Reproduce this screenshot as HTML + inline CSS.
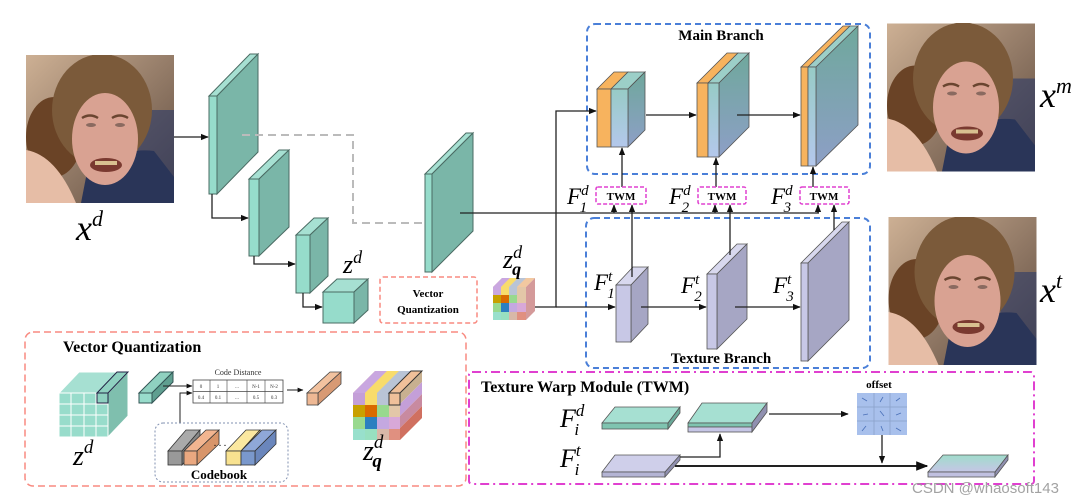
<!DOCTYPE html>
<html><head><meta charset="utf-8">
<style>
html,body{margin:0;padding:0;background:#fff;}
svg{display:block;}
.b{font-family:"Liberation Serif",serif;font-weight:bold;}
.m{font-family:"Liberation Serif",serif;font-style:italic;}
</style></head>
<body>
<svg width="1086" height="504" viewBox="0 0 1086 504" xmlns="http://www.w3.org/2000/svg">
<defs>
<marker id="ah" viewBox="0 0 10 10" refX="9" refY="5" markerWidth="6" markerHeight="6" orient="auto-start-reverse">
<path d="M0,1 L10,5 L0,9 z" fill="#111"/></marker>
<linearGradient id="mg" x1="0" y1="0" x2="0" y2="1"><stop offset="0" stop-color="#6fa89c"/><stop offset="1" stop-color="#8d9fc6"/></linearGradient>
<linearGradient id="mf" x1="0" y1="0" x2="0" y2="1"><stop offset="0" stop-color="#97cbc6"/><stop offset="1" stop-color="#b4c8ec"/></linearGradient>
<linearGradient id="og" x1="0" y1="0" x2="0" y2="1"><stop offset="0" stop-color="#a0dccb"/><stop offset="1" stop-color="#c6c6e6"/></linearGradient>
<linearGradient id="pbg" x1="0" y1="0" x2="1" y2="1"><stop offset="0" stop-color="#cdb094"/><stop offset="1" stop-color="#5e4a3e"/></linearGradient>
<symbol id="ph" viewBox="0 0 148 148">
<rect width="148" height="148" fill="url(#pbg)"/>
<rect x="112" y="55" width="36" height="70" fill="#2c3a68" opacity=".6"/>
<ellipse cx="28" cy="82" rx="28" ry="40" fill="#6a4326"/>
<ellipse cx="76" cy="55" rx="50" ry="56" fill="#7b5a3a"/>
<path d="M55,148 L62,112 Q100,92 128,96 L148,122 L148,148z" fill="#2a3558"/>
<ellipse cx="79" cy="84" rx="33" ry="46" fill="#d9a292"/>
<path d="M56,63 Q64,58 72,63 M86,63 Q94,58 102,63" stroke="#6a4530" stroke-width="2.5" fill="none"/>
<ellipse cx="65" cy="70" rx="5" ry="2" fill="#8a6a60"/>
<ellipse cx="94" cy="70" rx="5" ry="2" fill="#8a6a60"/>
<ellipse cx="80" cy="110" rx="16" ry="7" fill="#7a3a30"/>
<rect x="69" y="106" width="22" height="4" fill="#d8c090"/>
<path d="M0,95 Q30,100 50,148 L0,148z" fill="#e6bda6"/>
</symbol>
</defs>

<use href="#ph" x="26" y="55" width="148" height="148"/>
<use href="#ph" x="887" y="23" width="148" height="149"/>
<use href="#ph" x="888" y="217" width="149" height="148"/>
<text class="m" x="76" y="240" font-size="36">x<tspan font-size="22" dy="-14">d</tspan></text>
<text class="m" x="1040" y="107" font-size="36">x<tspan font-size="22" dy="-14">m</tspan></text>
<text class="m" x="1040" y="302" font-size="36">x<tspan font-size="22" dy="-14">t</tspan></text>

<g stroke="#4a6b63" stroke-width="1">
<polygon points="209,96 250,54 258,54 217,96" fill="#a6e0d2"/>
<polygon points="217,96 258,54 258,152 217,194" fill="#7ab6a8"/>
<rect x="209" y="96" width="8" height="98" fill="#96dccb"/>
<polygon points="249,179 279,150 289,150 259,179" fill="#a6e0d2"/>
<polygon points="259,179 289,150 289,227 259,256" fill="#7ab6a8"/>
<rect x="249" y="179" width="10" height="77" fill="#96dccb"/>
<polygon points="296,235 314,218 328,218 310,235" fill="#a6e0d2"/>
<polygon points="310,235 328,218 328,276 310,293" fill="#7ab6a8"/>
<rect x="296" y="235" width="14" height="58" fill="#96dccb"/>
<polygon points="323,292 337,279 368,279 354,292" fill="#a6e0d2"/>
<polygon points="354,292 368,279 368,310 354,323" fill="#7ab6a8"/>
<rect x="323" y="292" width="31" height="31" fill="#96dccb"/>
<polygon points="425,174 466,133 473,133 432,174" fill="#a6e0d2"/>
<polygon points="432,174 473,133 473,231 432,272" fill="#7ab6a8"/>
<rect x="425" y="174" width="7" height="98" fill="#96dccb"/>
</g>
<text class="m" x="343" y="273" font-size="26">z<tspan font-size="18" dy="-10">d</tspan></text>

<g stroke="#222" stroke-width="1.3" fill="none">
<line x1="174" y1="137" x2="208" y2="137" marker-end="url(#ah)"/>
<polyline points="212,194 212,218 248,218" marker-end="url(#ah)"/>
<polyline points="254,256 254,264 295,264" marker-end="url(#ah)"/>
<polyline points="303,293 303,307 322,307" marker-end="url(#ah)"/>
</g>
<polyline points="242,135 353,135 353,223 425,223" fill="none" stroke="#bbb" stroke-width="2" stroke-dasharray="8,5"/>

<rect x="380" y="277" width="97" height="46" rx="3" fill="none" stroke="#f88a80" stroke-width="1.5" stroke-dasharray="5,3"/>
<text class="b" x="428" y="297" font-size="11" text-anchor="middle">Vector</text>
<text class="b" x="428" y="313" font-size="11" text-anchor="middle">Quantization</text>

<g>
<polygon points="493,287 502,278 535,278 526,287" fill="#f2c8a0"/>
<polygon points="493,287 502,278 510,278 501,287" fill="#c9a7e0"/>
<polygon points="501,287 510,278 518,278 509,287" fill="#f8dc6b"/>
<polygon points="509,287 518,278 526,278 517,287" fill="#b9c4d6"/>
<polygon points="526,287 535,278 535,311 526,320" fill="#d49a9a"/>
<rect x="493" y="287" width="8" height="8" fill="#c9a7e0"/><rect x="501" y="287" width="8" height="8" fill="#f8dc6b"/><rect x="509" y="287" width="8" height="8" fill="#b9c4d6"/><rect x="517" y="287" width="9" height="8" fill="#e3c7a8"/>
<rect x="493" y="295" width="8" height="8" fill="#c8a000"/><rect x="501" y="295" width="8" height="8" fill="#d96a00"/><rect x="509" y="295" width="8" height="8" fill="#98d98e"/><rect x="517" y="295" width="9" height="8" fill="#e3c7a8"/>
<rect x="493" y="303" width="8" height="9" fill="#98d98e"/><rect x="501" y="303" width="8" height="9" fill="#2b7fc0"/><rect x="509" y="303" width="8" height="9" fill="#c4a8e0"/><rect x="517" y="303" width="9" height="9" fill="#d8a8d8"/>
<rect x="493" y="312" width="8" height="8" fill="#98e0cc"/><rect x="501" y="312" width="8" height="8" fill="#98e0c0"/><rect x="509" y="312" width="8" height="8" fill="#d8b8a8"/><rect x="517" y="312" width="9" height="8" fill="#e09080"/>
</g>
<text class="m" x="503" y="268" font-size="26">z<tspan font-size="18" dy="-10">d</tspan><tspan font-size="18" font-weight="bold" dx="-10" dy="17">q</tspan></text>

<rect x="587" y="24" width="283" height="150" rx="8" fill="none" stroke="#4a7fd8" stroke-width="2" stroke-dasharray="6,4"/>
<text class="b" x="721" y="40" font-size="15" text-anchor="middle">Main Branch</text>
<rect x="586" y="218" width="284" height="150" rx="8" fill="none" stroke="#4a7fd8" stroke-width="2" stroke-dasharray="6,4"/>
<text class="b" x="721" y="363" font-size="15" text-anchor="middle">Texture Branch</text>

<g stroke="#555" stroke-width="0.8">
<polygon points="597,89 614,72 628,72 611,89" fill="#f7b35e"/>
<rect x="597" y="89" width="14" height="58" fill="#f7b35e"/>
<polygon points="611,89 628,72 645,72 628,89" fill="#9ccfc8"/>
<polygon points="628,89 645,72 645,130 628,147" fill="url(#mg)"/>
<rect x="611" y="89" width="17" height="58" fill="url(#mf)"/>
<polygon points="697,83 727,53 738,53 708,83" fill="#f7b35e"/>
<rect x="697" y="83" width="11" height="74" fill="#f7b35e"/>
<polygon points="708,83 738,53 749,53 719,83" fill="#9ccfc8"/>
<polygon points="719,83 749,53 749,127 719,157" fill="url(#mg)"/>
<rect x="708" y="83" width="11" height="74" fill="url(#mf)"/>
<polygon points="801,67 843,26 850,26 808,67" fill="#f7b35e"/>
<rect x="801" y="67" width="7" height="99" fill="#f7b35e"/>
<polygon points="808,67 850,26 858,26 816,67" fill="#9ccfc8"/>
<polygon points="816,67 858,26 858,125 816,166" fill="url(#mg)"/>
<rect x="808" y="67" width="8" height="99" fill="url(#mf)"/>

<polygon points="616,285 633,267 648,267 631,285" fill="#d8d8ee"/>
<polygon points="631,285 648,267 648,324 631,342" fill="#a6a6c4"/>
<rect x="616" y="285" width="15" height="57" fill="#c8c8e6"/>
<polygon points="707,274 737,244 747,244 717,274" fill="#d8d8ee"/>
<polygon points="717,274 747,244 747,319 717,349" fill="#a6a6c4"/>
<rect x="707" y="274" width="10" height="75" fill="#c8c8e6"/>
<polygon points="801,263 842,222 849,222 808,263" fill="#d8d8ee"/>
<polygon points="808,263 849,222 849,320 808,361" fill="#a6a6c4"/>
<rect x="801" y="263" width="7" height="98" fill="#c8c8e6"/>
</g>

<g stroke="#222" stroke-width="1.3" fill="none">
<line x1="460" y1="213" x2="819" y2="213"/>
<polyline points="535,307 556,307 556,111 596,111" marker-end="url(#ah)"/>
<line x1="556" y1="307" x2="615" y2="307" marker-end="url(#ah)"/>
<line x1="646" y1="115" x2="696" y2="115" marker-end="url(#ah)"/>
<line x1="737" y1="115" x2="800" y2="115" marker-end="url(#ah)"/>
<line x1="641" y1="307" x2="706" y2="307" marker-end="url(#ah)"/>
<line x1="735" y1="307" x2="800" y2="307" marker-end="url(#ah)"/>
<line x1="622" y1="187" x2="622" y2="148" marker-end="url(#ah)"/>
<line x1="716" y1="187" x2="716" y2="158" marker-end="url(#ah)"/>
<line x1="813" y1="187" x2="813" y2="167" marker-end="url(#ah)"/>
<line x1="614" y1="213" x2="614" y2="205" marker-end="url(#ah)"/>
<line x1="715" y1="213" x2="715" y2="205" marker-end="url(#ah)"/>
<line x1="818" y1="213" x2="818" y2="205" marker-end="url(#ah)"/>
<line x1="632" y1="277" x2="632" y2="205" marker-end="url(#ah)"/>
<line x1="730" y1="255" x2="730" y2="205" marker-end="url(#ah)"/>
<line x1="834" y1="230" x2="834" y2="205" marker-end="url(#ah)"/>
</g>

<g fill="none" stroke="#e040d0" stroke-width="1.5" stroke-dasharray="4,2">
<rect x="596" y="187" width="50" height="17" rx="2"/>
<rect x="698" y="187" width="48" height="17" rx="2"/>
<rect x="800" y="187" width="49" height="17" rx="2"/>
</g>
<g class="b" font-size="11" text-anchor="middle">
<text x="621" y="200">TWM</text><text x="722" y="200">TWM</text><text x="824" y="200">TWM</text>
</g>
<g class="m" font-size="23">
<text x="567" y="204">F<tspan font-size="15" dy="-9">d</tspan><tspan font-size="15" dx="-9" dy="17">1</tspan></text>
<text x="669" y="204">F<tspan font-size="15" dy="-9">d</tspan><tspan font-size="15" dx="-9" dy="17">2</tspan></text>
<text x="771" y="204">F<tspan font-size="15" dy="-9">d</tspan><tspan font-size="15" dx="-9" dy="17">3</tspan></text>
<text x="594" y="290">F<tspan font-size="15" dy="-9">t</tspan><tspan font-size="15" dx="-5" dy="17">1</tspan></text>
<text x="681" y="293">F<tspan font-size="15" dy="-9">t</tspan><tspan font-size="15" dx="-5" dy="17">2</tspan></text>
<text x="773" y="293">F<tspan font-size="15" dy="-9">t</tspan><tspan font-size="15" dx="-5" dy="17">3</tspan></text>
</g>

<rect x="25" y="332" width="441" height="154" rx="8" fill="none" stroke="#f88a80" stroke-width="1.5" stroke-dasharray="7,4"/>
<text class="b" x="63" y="352" font-size="16">Vector Quantization</text>
<g stroke="#fff" stroke-width="1">
<polygon points="59,393 79,372 128,372 108,393" fill="#a6e0d2"/>
<polygon points="108,393 128,372 128,416 108,437" fill="#7fbfae"/>
<rect x="59" y="393" width="49" height="44" fill="#98dccb"/>
<line x1="71" y1="393" x2="71" y2="437"/><line x1="84" y1="393" x2="84" y2="437"/><line x1="96" y1="393" x2="96" y2="437"/>
<line x1="59" y1="404" x2="108" y2="404"/><line x1="59" y1="415" x2="108" y2="415"/><line x1="59" y1="426" x2="108" y2="426"/>
</g>
<g stroke="#224" stroke-width="1">
<polygon points="97,393 117,372 128,372 108,393" fill="#8fd1c0"/>
<rect x="97" y="393" width="11" height="10" fill="#8fd1c0"/>
<polygon points="139,393 160,372 173,372 152,393" fill="#8fd1c0" stroke="#355"/>
<polygon points="152,393 173,372 173,382 152,403" fill="#5f9f90" stroke="#355"/>
<rect x="139" y="393" width="13" height="10" fill="#98dccb" stroke="#355"/>
</g>
<g stroke="#222" stroke-width="1" fill="none">
<line x1="163" y1="386" x2="192" y2="386" marker-end="url(#ah)"/>
<polyline points="180,423 180,393 192,393" marker-end="url(#ah)"/>
<line x1="287" y1="390" x2="303" y2="390" marker-end="url(#ah)"/>
</g>
<rect x="193" y="380" width="90" height="23" fill="#fff" stroke="#444" stroke-width="0.8"/>
<line x1="193" y1="391.5" x2="283" y2="391.5" stroke="#444" stroke-width="0.8"/>
<g stroke="#444" stroke-width="0.6"><line x1="210" y1="380" x2="210" y2="403"/><line x1="227" y1="380" x2="227" y2="403"/><line x1="247" y1="380" x2="247" y2="403"/><line x1="265" y1="380" x2="265" y2="403"/></g>
<g font-family="Liberation Serif,serif" font-size="5" text-anchor="middle" fill="#333">
<text x="201" y="388">0</text><text x="218" y="388">1</text><text x="237" y="388">...</text><text x="256" y="388">N-1</text><text x="274" y="388">N-2</text>
<text x="201" y="399">0.4</text><text x="218" y="399">0.1</text><text x="237" y="399">...</text><text x="256" y="399">0.5</text><text x="274" y="399">0.3</text>
</g>
<text x="238" y="375" font-family="Liberation Serif,serif" font-size="8" text-anchor="middle" fill="#333">Code Distance</text>
<rect x="155" y="423" width="133" height="59" rx="8" fill="none" stroke="#8090b0" stroke-width="1" stroke-dasharray="2,2"/>
<g stroke="#333" stroke-width="0.8">
<polygon points="168,451 186,430 200,430 182,451" fill="#aaa"/><polygon points="182,451 200,430 200,444 182,465" fill="#888"/><rect x="168" y="451" width="14" height="14" fill="#999"/>
<polygon points="184,451 206,430 219,430 197,451" fill="#f2b590"/><polygon points="197,451 219,430 219,444 197,465" fill="#d8956a"/><rect x="184" y="451" width="13" height="14" fill="#eaa880"/>
<polygon points="226,451 246,430 260,430 241,451" fill="#fbe8a0"/><polygon points="241,451 260,430 262,444 241,465" fill="#e8d080"/><rect x="226" y="451" width="15" height="14" fill="#f8e290"/>
<polygon points="241,451 262,430 276,430 255,451" fill="#8fa8d8"/><polygon points="255,451 276,430 276,444 255,465" fill="#6a86bc"/><rect x="241" y="451" width="14" height="14" fill="#7a98cc"/>
</g>
<text x="220" y="446" font-size="10" text-anchor="middle">. . .</text>
<text class="b" x="219" y="479" font-size="13" text-anchor="middle">Codebook</text>
<g stroke="#444" stroke-width="0.8">
<polygon points="307,393 330,372 341,372 318,393" fill="#f2c29f"/><polygon points="318,393 341,372 341,384 318,405" fill="#d89a74"/><rect x="307" y="393" width="11" height="12" fill="#eeb894"/>
</g>
<g>
<polygon points="353,393 375,371 422,371 400,393" fill="#f2c8a0"/>
<polygon points="353,393 375,371 387,371 365,393" fill="#c9a7e0"/>
<polygon points="365,393 387,371 399,371 377,393" fill="#f8dc6b"/>
<polygon points="377,393 399,371 411,371 389,393" fill="#b9c4d6"/>
<polygon points="400,393 422,371 422,382 400,404" fill="#c8b090"/>
<polygon points="400,404 422,382 422,394 400,416" fill="#c49fd8"/>
<polygon points="400,416 422,394 422,406 400,428" fill="#c88aa0"/>
<polygon points="400,428 422,406 422,418 400,440" fill="#d07060"/>
<rect x="353" y="393" width="12" height="12" fill="#c49fd8"/><rect x="365" y="393" width="12" height="12" fill="#f8dc6b"/><rect x="377" y="393" width="12" height="12" fill="#b9c4d6"/><rect x="389" y="393" width="11" height="12" fill="#f0c09a"/>
<rect x="353" y="405" width="12" height="12" fill="#c8a000"/><rect x="365" y="405" width="12" height="12" fill="#d96a00"/><rect x="377" y="405" width="12" height="12" fill="#98d98e"/><rect x="389" y="405" width="11" height="12" fill="#e3c7a8"/>
<rect x="353" y="417" width="12" height="12" fill="#98d98e"/><rect x="365" y="417" width="12" height="12" fill="#2b7fc0"/><rect x="377" y="417" width="12" height="12" fill="#c4a8e0"/><rect x="389" y="417" width="11" height="12" fill="#d8a8d8"/>
<rect x="353" y="429" width="12" height="11" fill="#98e0cc"/><rect x="365" y="429" width="12" height="11" fill="#98e0c0"/><rect x="377" y="429" width="12" height="11" fill="#d8b8a8"/><rect x="389" y="429" width="11" height="11" fill="#e09080"/>
<polygon points="389,393 411,371 422,371 400,393" fill="#f0c09a" stroke="#333"/>
<rect x="389" y="393" width="11" height="12" fill="none" stroke="#333"/>
</g>
<text class="m" x="73" y="465" font-size="28">z<tspan font-size="19" dy="-12">d</tspan></text>
<text class="m" x="363" y="460" font-size="28">z<tspan font-size="19" dy="-12">d</tspan><tspan font-size="19" font-weight="bold" dx="-11" dy="19">q</tspan></text>

<rect x="469" y="372" width="565" height="112" rx="3" fill="none" stroke="#e040d0" stroke-width="2" stroke-dasharray="9,4,2,4"/>
<text class="b" x="481" y="392" font-size="16">Texture Warp Module (TWM)</text>
<g class="m" font-size="26">
<text x="560" y="427">F<tspan font-size="17" dy="-11">d</tspan><tspan font-size="17" dx="-10" dy="19">i</tspan></text>
<text x="560" y="467">F<tspan font-size="17" dy="-11">t</tspan><tspan font-size="17" dx="-6" dy="19">i</tspan></text>
</g>
<g stroke="#555" stroke-width="0.8">
<polygon points="602,423 615,407 680,407 668,423" fill="#a6e0d2"/>
<rect x="602" y="423" width="66" height="6" fill="#7fc4b0"/>
<polygon points="668,423 680,407 680,413 668,429" fill="#6aa898"/>
<polygon points="688,423 702,403 767,403 752,423" fill="#a6e0d2"/>
<rect x="688" y="423" width="64" height="4" fill="#7fc4b0"/>
<rect x="688" y="427" width="64" height="5" fill="#c6c6e6"/>
<polygon points="752,423 767,403 767,412 752,432" fill="#9090b0"/>
<polygon points="602,472 615,455 680,455 665,472" fill="#cfcfea"/>
<rect x="602" y="472" width="63" height="5" fill="#b4b4d4"/>
<polygon points="665,472 680,455 680,460 665,477" fill="#9090b0"/>
<polygon points="928,472 943,455 1008,455 995,472" fill="url(#og)"/>
<rect x="928" y="472" width="67" height="5" fill="#c0c0e0"/>
<polygon points="995,472 1008,455 1008,460 995,477" fill="#9090b0"/>
</g>
<rect x="857" y="393" width="50" height="42" fill="#a8c0ec"/>
<g stroke="#8aa0c8" stroke-width="0.8"><line x1="874" y1="393" x2="874" y2="435"/><line x1="890" y1="393" x2="890" y2="435"/><line x1="857" y1="407" x2="907" y2="407"/><line x1="857" y1="421" x2="907" y2="421"/></g>
<g stroke="#4a70b8" stroke-width="0.8"><line x1="862" y1="398" x2="867" y2="401"/><line x1="880" y1="402" x2="883" y2="397"/><line x1="896" y1="401" x2="900" y2="398"/><line x1="863" y1="415" x2="868" y2="414"/><line x1="880" y1="411" x2="884" y2="416"/><line x1="896" y1="415" x2="901" y2="413"/><line x1="862" y1="431" x2="866" y2="426"/><line x1="881" y1="426" x2="883" y2="431"/><line x1="896" y1="428" x2="901" y2="431"/></g>
<text class="b" x="879" y="388" font-size="11" text-anchor="middle">offset</text>
<g stroke="#222" stroke-width="1.3" fill="none">
<line x1="769" y1="414" x2="848" y2="414" marker-end="url(#ah)"/>
<line x1="882" y1="435" x2="882" y2="463" marker-end="url(#ah)"/>
<polyline points="680,457 720,457 720,434" marker-end="url(#ah)"/>
<line x1="675" y1="466" x2="927" y2="466" stroke-width="2" marker-end="url(#ah)"/>
</g>
<text x="912" y="493" font-family="Liberation Sans,sans-serif" font-size="15" fill="#999" opacity=".9">CSDN @whaosoft143</text>
</svg>
</body></html>
